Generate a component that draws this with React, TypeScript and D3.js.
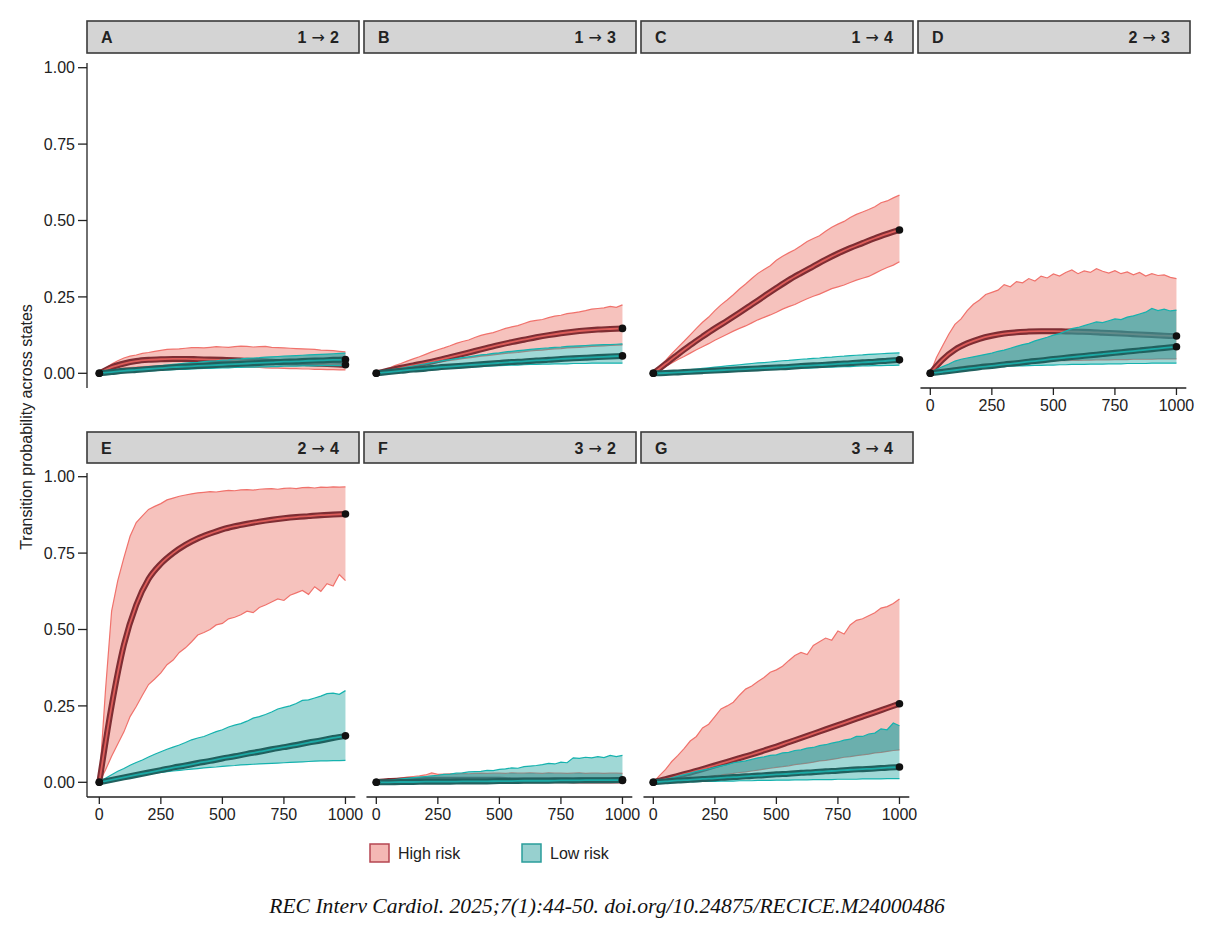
import React from 'react';
import * as d3 from 'd3';

// time grids (ribbons are sampled every 25 units, means every 50)
const T_BAND = [
  0, 25, 50, 75, 100, 125, 150, 175, 200, 225,
  250, 275, 300, 325, 350, 375, 400, 425, 450, 475,
  500, 525, 550, 575, 600, 625, 650, 675, 700, 725,
  750, 775, 800, 825, 850, 875, 900, 925, 950, 975,
  1000,
];
const T_MEAN = [0, 50, 100, 150, 200, 250, 300, 350, 400, 450, 500, 550, 600, 650, 700, 750, 800, 850, 900, 950, 1000];

const X_TICKS = [0, 250, 500, 750, 1000];
const Y_TICKS = [0, 0.25, 0.5, 0.75, 1];
const Y_TICK_LABELS = ['0.00', '0.25', '0.50', '0.75', '1.00'];

const GROUPS = ['High risk', 'Low risk'];

// ---- A: 1 -> 2
const A_HI_UP = [
  0, 0.016, 0.030, 0.041, 0.050, 0.056, 0.060, 0.065, 0.068, 0.072,
  0.075, 0.078, 0.079, 0.080, 0.082, 0.084, 0.084, 0.083, 0.085, 0.087,
  0.086, 0.085, 0.087, 0.089, 0.088, 0.086, 0.087, 0.088, 0.085, 0.084,
  0.083, 0.082, 0.081, 0.080, 0.079, 0.078, 0.076, 0.075, 0.074, 0.072,
  0.070,
];
const A_HI_LO = [
  0, 0.005, 0.010, 0.014, 0.017, 0.019, 0.020, 0.022, 0.023, 0.024,
  0.025, 0.025, 0.026, 0.026, 0.026, 0.025, 0.025, 0.024, 0.024, 0.023,
  0.023, 0.022, 0.022, 0.021, 0.020, 0.020, 0.019, 0.018, 0.017, 0.017,
  0.016, 0.015, 0.015, 0.014, 0.014, 0.013, 0.013, 0.012, 0.012, 0.011,
  0.011,
];
const A_HI_MID = [0, 0.020, 0.032, 0.040, 0.044, 0.046, 0.047, 0.047, 0.046, 0.045, 0.044, 0.043, 0.041, 0.040, 0.038, 0.036, 0.035, 0.033, 0.031, 0.030, 0.028];
const A_LO_UP = [
  0, 0.003, 0.006, 0.009, 0.012, 0.014, 0.017, 0.019, 0.021, 0.023,
  0.025, 0.027, 0.029, 0.031, 0.033, 0.035, 0.036, 0.038, 0.040, 0.041,
  0.043, 0.044, 0.046, 0.047, 0.049, 0.050, 0.051, 0.053, 0.054, 0.055,
  0.056, 0.057, 0.058, 0.059, 0.060, 0.061, 0.062, 0.063, 0.064, 0.065,
  0.066,
];
const A_LO_LO = [
  0, 0.001, 0.002, 0.003, 0.004, 0.005, 0.006, 0.007, 0.008, 0.009,
  0.010, 0.011, 0.012, 0.013, 0.013, 0.014, 0.015, 0.016, 0.016, 0.017,
  0.018, 0.018, 0.019, 0.019, 0.020, 0.020, 0.021, 0.021, 0.022, 0.022,
  0.023, 0.023, 0.023, 0.024, 0.024, 0.024, 0.025, 0.025, 0.025, 0.025,
  0.026,
];
const A_LO_MID = [0, 0.004, 0.008, 0.011, 0.014, 0.017, 0.020, 0.022, 0.024, 0.026, 0.028, 0.030, 0.032, 0.034, 0.036, 0.038, 0.039, 0.041, 0.042, 0.044, 0.045];

// ---- B: 1 -> 3
const B_HI_UP = [
  0, 0.008, 0.016, 0.025, 0.032, 0.040, 0.047, 0.054, 0.062, 0.070,
  0.077, 0.083, 0.090, 0.098, 0.104, 0.109, 0.117, 0.124, 0.129, 0.133,
  0.140, 0.147, 0.152, 0.156, 0.163, 0.170, 0.173, 0.176, 0.182, 0.187,
  0.190, 0.195, 0.198, 0.201, 0.205, 0.210, 0.212, 0.214, 0.219, 0.216,
  0.224,
];
const B_HI_LO = [
  0, 0.004, 0.008, 0.012, 0.016, 0.019, 0.023, 0.027, 0.030, 0.033,
  0.036, 0.039, 0.042, 0.045, 0.048, 0.050, 0.053, 0.056, 0.058, 0.060,
  0.063, 0.065, 0.067, 0.068, 0.071, 0.073, 0.075, 0.076, 0.078, 0.080,
  0.081, 0.083, 0.084, 0.085, 0.086, 0.088, 0.089, 0.090, 0.091, 0.092,
  0.093,
];
const B_HI_MID = [0, 0.009, 0.018, 0.026, 0.034, 0.043, 0.053, 0.063, 0.073, 0.083, 0.093, 0.102, 0.110, 0.118, 0.125, 0.131, 0.136, 0.140, 0.143, 0.145, 0.147];
const B_LO_UP = [
  0, 0.004, 0.008, 0.012, 0.016, 0.020, 0.024, 0.028, 0.031, 0.035,
  0.038, 0.042, 0.045, 0.048, 0.051, 0.054, 0.057, 0.060, 0.062, 0.065,
  0.067, 0.070, 0.072, 0.074, 0.076, 0.078, 0.080, 0.082, 0.083, 0.085,
  0.086, 0.088, 0.089, 0.090, 0.091, 0.092, 0.093, 0.094, 0.094, 0.095,
  0.096,
];
const B_LO_LO = [
  0, 0.002, 0.003, 0.005, 0.006, 0.008, 0.009, 0.011, 0.012, 0.013,
  0.015, 0.016, 0.017, 0.018, 0.019, 0.020, 0.021, 0.022, 0.023, 0.024,
  0.025, 0.026, 0.027, 0.027, 0.028, 0.029, 0.029, 0.030, 0.030, 0.031,
  0.031, 0.031, 0.032, 0.032, 0.032, 0.033, 0.033, 0.033, 0.033, 0.033,
  0.033,
];
const B_LO_MID = [0, 0.004, 0.008, 0.012, 0.015, 0.019, 0.022, 0.025, 0.028, 0.031, 0.034, 0.037, 0.039, 0.042, 0.044, 0.047, 0.049, 0.051, 0.053, 0.055, 0.057];

// ---- C: 1 -> 4
const C_HI_UP = [
  0, 0.021, 0.042, 0.064, 0.085, 0.105, 0.126, 0.147, 0.167, 0.184,
  0.205, 0.224, 0.240, 0.257, 0.276, 0.292, 0.310, 0.327, 0.340, 0.352,
  0.370, 0.383, 0.394, 0.404, 0.417, 0.431, 0.441, 0.450, 0.465, 0.478,
  0.488, 0.497, 0.510, 0.520, 0.528, 0.536, 0.545, 0.558, 0.564, 0.574,
  0.583,
];
const C_HI_LO = [
  0, 0.011, 0.022, 0.034, 0.045, 0.055, 0.066, 0.077, 0.087, 0.097,
  0.108, 0.118, 0.128, 0.138, 0.147, 0.155, 0.165, 0.175, 0.183, 0.191,
  0.200, 0.210, 0.218, 0.225, 0.235, 0.244, 0.252, 0.259, 0.268, 0.277,
  0.283, 0.289, 0.297, 0.305, 0.311, 0.317, 0.327, 0.337, 0.346, 0.354,
  0.365,
];
const C_HI_MID = [0, 0.031, 0.062, 0.092, 0.120, 0.147, 0.172, 0.198, 0.225, 0.252, 0.279, 0.305, 0.328, 0.350, 0.372, 0.392, 0.410, 0.426, 0.442, 0.456, 0.469];
const C_LO_UP = [
  0, 0.002, 0.004, 0.006, 0.008, 0.010, 0.012, 0.014, 0.016, 0.018,
  0.020, 0.022, 0.024, 0.026, 0.028, 0.030, 0.032, 0.034, 0.035, 0.037,
  0.039, 0.041, 0.042, 0.044, 0.046, 0.047, 0.049, 0.050, 0.052, 0.053,
  0.055, 0.056, 0.058, 0.059, 0.060, 0.062, 0.063, 0.064, 0.065, 0.066,
  0.067,
];
const C_LO_LO = [
  0, 0.000, 0.001, 0.001, 0.002, 0.002, 0.003, 0.004, 0.004, 0.005,
  0.006, 0.006, 0.007, 0.008, 0.009, 0.009, 0.010, 0.011, 0.012, 0.013,
  0.013, 0.014, 0.015, 0.016, 0.017, 0.017, 0.018, 0.019, 0.020, 0.020,
  0.021, 0.022, 0.022, 0.023, 0.024, 0.024, 0.025, 0.025, 0.026, 0.026,
  0.027,
];
const C_LO_MID = [0, 0.001, 0.003, 0.005, 0.007, 0.009, 0.011, 0.013, 0.015, 0.017, 0.019, 0.021, 0.024, 0.026, 0.028, 0.031, 0.033, 0.036, 0.038, 0.041, 0.044];

// ---- D: 2 -> 3
const D_HI_UP = [
  0, 0.052, 0.090, 0.128, 0.160, 0.178, 0.205, 0.226, 0.240, 0.258,
  0.265, 0.272, 0.290, 0.283, 0.300, 0.296, 0.310, 0.302, 0.318, 0.312,
  0.325, 0.318, 0.330, 0.338, 0.326, 0.335, 0.330, 0.342, 0.334, 0.328,
  0.336, 0.326, 0.332, 0.322, 0.330, 0.318, 0.326, 0.320, 0.322, 0.314,
  0.310,
];
const D_HI_LO = [
  0, 0.005, 0.010, 0.014, 0.018, 0.021, 0.024, 0.026, 0.028, 0.030,
  0.031, 0.032, 0.034, 0.035, 0.036, 0.037, 0.038, 0.038, 0.039, 0.040,
  0.040, 0.041, 0.041, 0.042, 0.042, 0.043, 0.043, 0.044, 0.044, 0.044,
  0.045, 0.045, 0.045, 0.046, 0.046, 0.046, 0.046, 0.047, 0.047, 0.047,
  0.047,
];
const D_HI_MID = [0, 0.045, 0.077, 0.098, 0.113, 0.123, 0.130, 0.134, 0.137, 0.138, 0.138, 0.137, 0.136, 0.135, 0.133, 0.131, 0.129, 0.127, 0.125, 0.123, 0.122];
const D_LO_UP = [
  0, 0.012, 0.022, 0.030, 0.040, 0.046, 0.050, 0.054, 0.058, 0.062,
  0.066, 0.072, 0.076, 0.082, 0.088, 0.094, 0.098, 0.106, 0.112, 0.118,
  0.125, 0.130, 0.138, 0.146, 0.150, 0.156, 0.162, 0.168, 0.166, 0.172,
  0.178, 0.176, 0.184, 0.188, 0.194, 0.200, 0.212, 0.205, 0.210, 0.204,
  0.207,
];
const D_LO_LO = [
  0, 0.004, 0.007, 0.010, 0.012, 0.014, 0.016, 0.017, 0.018, 0.019,
  0.020, 0.021, 0.022, 0.023, 0.024, 0.024, 0.025, 0.026, 0.026, 0.027,
  0.027, 0.028, 0.028, 0.029, 0.029, 0.029, 0.030, 0.030, 0.030, 0.031,
  0.031, 0.031, 0.032, 0.032, 0.032, 0.032, 0.033, 0.033, 0.033, 0.033,
  0.033,
];
const D_LO_MID = [0, 0.005, 0.010, 0.015, 0.020, 0.024, 0.029, 0.033, 0.038, 0.042, 0.047, 0.051, 0.055, 0.059, 0.063, 0.067, 0.071, 0.075, 0.079, 0.083, 0.087];

// ---- E: 2 -> 4
const E_HI_UP = [
  0, 0.300, 0.560, 0.660, 0.735, 0.805, 0.850, 0.872, 0.893, 0.903,
  0.912, 0.924, 0.930, 0.936, 0.940, 0.944, 0.947, 0.949, 0.951, 0.950,
  0.953, 0.955, 0.954, 0.957, 0.958, 0.956, 0.959, 0.960, 0.961, 0.959,
  0.962, 0.963, 0.961, 0.964, 0.965, 0.963, 0.966, 0.965, 0.967, 0.966,
  0.967,
];
const E_HI_LO = [
  0, 0.040, 0.085, 0.125, 0.165, 0.215, 0.248, 0.285, 0.320, 0.338,
  0.358, 0.385, 0.400, 0.425, 0.440, 0.460, 0.482, 0.490, 0.500, 0.515,
  0.520, 0.535, 0.540, 0.548, 0.560, 0.555, 0.572, 0.580, 0.590, 0.600,
  0.595, 0.612, 0.620, 0.628, 0.615, 0.640, 0.625, 0.650, 0.642, 0.680,
  0.660,
];
const E_HI_MID = [0, 0.250, 0.450, 0.580, 0.665, 0.715, 0.750, 0.777, 0.798, 0.814, 0.828, 0.838, 0.846, 0.853, 0.859, 0.864, 0.868, 0.871, 0.874, 0.876, 0.878];
const E_LO_UP = [
  0, 0.013, 0.025, 0.036, 0.045, 0.056, 0.065, 0.073, 0.083, 0.092,
  0.100, 0.108, 0.115, 0.122, 0.130, 0.139, 0.145, 0.150, 0.158, 0.166,
  0.172, 0.181, 0.187, 0.192, 0.200, 0.210, 0.215, 0.222, 0.230, 0.240,
  0.245, 0.250, 0.258, 0.268, 0.270, 0.276, 0.282, 0.290, 0.292, 0.288,
  0.300,
];
const E_LO_LO = [
  0, 0.004, 0.008, 0.012, 0.015, 0.018, 0.021, 0.024, 0.027, 0.030,
  0.032, 0.035, 0.037, 0.039, 0.041, 0.043, 0.045, 0.047, 0.049, 0.050,
  0.052, 0.054, 0.055, 0.057, 0.058, 0.059, 0.060, 0.061, 0.062, 0.063,
  0.064, 0.065, 0.066, 0.067, 0.068, 0.069, 0.070, 0.070, 0.071, 0.071,
  0.072,
];
const E_LO_MID = [0, 0.008, 0.016, 0.024, 0.032, 0.040, 0.048, 0.055, 0.063, 0.070, 0.078, 0.085, 0.093, 0.100, 0.108, 0.115, 0.122, 0.130, 0.137, 0.145, 0.152];

// ---- F: 3 -> 2
const F_HI_UP = [
  0, 0.004, 0.008, 0.011, 0.014, 0.017, 0.019, 0.021, 0.024, 0.031,
  0.026, 0.027, 0.028, 0.027, 0.029, 0.028, 0.029, 0.030, 0.029, 0.030,
  0.030, 0.029, 0.031, 0.030, 0.030, 0.031, 0.030, 0.029, 0.031, 0.030,
  0.030, 0.029, 0.030, 0.031, 0.029, 0.030, 0.030, 0.029, 0.030, 0.030,
  0.029,
];
const F_HI_LO = [
  0, 0.000, 0.000, 0.000, 0.001, 0.001, 0.001, 0.001, 0.001, 0.001,
  0.001, 0.001, 0.001, 0.001, 0.001, 0.001, 0.001, 0.001, 0.001, 0.001,
  0.001, 0.001, 0.001, 0.001, 0.001, 0.001, 0.001, 0.001, 0.001, 0.001,
  0.001, 0.001, 0.001, 0.001, 0.001, 0.001, 0.001, 0.001, 0.001, 0.001,
  0.001,
];
const F_HI_MID = [0, 0.004, 0.006, 0.007, 0.008, 0.008, 0.008, 0.008, 0.008, 0.008, 0.008, 0.007, 0.007, 0.007, 0.007, 0.007, 0.006, 0.006, 0.006, 0.006, 0.006];
const F_LO_UP = [
  0, 0.003, 0.006, 0.009, 0.011, 0.013, 0.015, 0.017, 0.019, 0.021,
  0.023, 0.026, 0.027, 0.030, 0.031, 0.034, 0.035, 0.036, 0.039, 0.038,
  0.042, 0.044, 0.047, 0.046, 0.051, 0.053, 0.055, 0.058, 0.062, 0.060,
  0.066, 0.064, 0.080, 0.078, 0.082, 0.080, 0.084, 0.081, 0.088, 0.084,
  0.088,
];
const F_LO_LO = [
  0, 0.000, 0.000, 0.000, 0.000, 0.000, 0.000, 0.000, 0.001, 0.001,
  0.001, 0.001, 0.001, 0.001, 0.001, 0.001, 0.001, 0.001, 0.001, 0.001,
  0.001, 0.001, 0.001, 0.001, 0.001, 0.001, 0.001, 0.001, 0.001, 0.001,
  0.001, 0.001, 0.001, 0.001, 0.001, 0.001, 0.001, 0.001, 0.001, 0.001,
  0.001,
];
const F_LO_MID = [0, 0.000, 0.001, 0.001, 0.002, 0.002, 0.002, 0.003, 0.003, 0.003, 0.004, 0.004, 0.005, 0.005, 0.005, 0.006, 0.006, 0.007, 0.007, 0.007, 0.008];

// ---- G: 3 -> 4
const G_HI_UP = [
  0, 0.022, 0.042, 0.068, 0.088, 0.110, 0.135, 0.150, 0.178, 0.190,
  0.215, 0.240, 0.250, 0.262, 0.285, 0.305, 0.315, 0.330, 0.343, 0.360,
  0.368, 0.380, 0.398, 0.415, 0.425, 0.418, 0.448, 0.460, 0.472, 0.465,
  0.495, 0.485, 0.515, 0.530, 0.535, 0.545, 0.555, 0.570, 0.575, 0.585,
  0.600,
];
const G_HI_LO = [
  0, 0.002, 0.004, 0.006, 0.008, 0.010, 0.012, 0.014, 0.017, 0.019,
  0.022, 0.024, 0.027, 0.029, 0.032, 0.034, 0.037, 0.040, 0.043, 0.046,
  0.049, 0.051, 0.054, 0.058, 0.060, 0.063, 0.066, 0.070, 0.072, 0.075,
  0.078, 0.082, 0.084, 0.087, 0.090, 0.092, 0.096, 0.098, 0.101, 0.104,
  0.106,
];
const G_HI_MID = [0, 0.010, 0.021, 0.032, 0.043, 0.055, 0.067, 0.079, 0.091, 0.104, 0.117, 0.131, 0.145, 0.159, 0.173, 0.187, 0.201, 0.215, 0.229, 0.243, 0.257];
const G_LO_UP = [
  0, 0.005, 0.010, 0.015, 0.020, 0.025, 0.030, 0.036, 0.040, 0.044,
  0.049, 0.054, 0.058, 0.064, 0.067, 0.070, 0.075, 0.080, 0.083, 0.088,
  0.090, 0.096, 0.098, 0.104, 0.106, 0.112, 0.114, 0.120, 0.123, 0.128,
  0.132, 0.138, 0.141, 0.150, 0.150, 0.158, 0.161, 0.175, 0.172, 0.194,
  0.185,
];
const G_LO_LO = [
  0, 0.000, 0.001, 0.001, 0.001, 0.002, 0.002, 0.002, 0.003, 0.003,
  0.003, 0.004, 0.004, 0.004, 0.005, 0.005, 0.005, 0.006, 0.006, 0.006,
  0.007, 0.007, 0.007, 0.008, 0.008, 0.008, 0.009, 0.009, 0.009, 0.009,
  0.010, 0.010, 0.010, 0.010, 0.011, 0.011, 0.011, 0.011, 0.012, 0.012,
  0.012,
];
const G_LO_MID = [0, 0.003, 0.006, 0.008, 0.011, 0.013, 0.016, 0.018, 0.021, 0.023, 0.026, 0.028, 0.031, 0.033, 0.036, 0.038, 0.041, 0.043, 0.045, 0.048, 0.050];

const PANELS = [
  { key: 'A', from: '1', to: '2', row: 0, col: 0, hi: [A_HI_LO, A_HI_UP, A_HI_MID], lo: [A_LO_LO, A_LO_UP, A_LO_MID] },
  { key: 'B', from: '1', to: '3', row: 0, col: 1, hi: [B_HI_LO, B_HI_UP, B_HI_MID], lo: [B_LO_LO, B_LO_UP, B_LO_MID] },
  { key: 'C', from: '1', to: '4', row: 0, col: 2, hi: [C_HI_LO, C_HI_UP, C_HI_MID], lo: [C_LO_LO, C_LO_UP, C_LO_MID] },
  { key: 'D', from: '2', to: '3', row: 0, col: 3, hi: [D_HI_LO, D_HI_UP, D_HI_MID], lo: [D_LO_LO, D_LO_UP, D_LO_MID] },
  { key: 'E', from: '2', to: '4', row: 1, col: 0, hi: [E_HI_LO, E_HI_UP, E_HI_MID], lo: [E_LO_LO, E_LO_UP, E_LO_MID] },
  { key: 'F', from: '3', to: '2', row: 1, col: 1, hi: [F_HI_LO, F_HI_UP, F_HI_MID], lo: [F_LO_LO, F_LO_UP, F_LO_MID] },
  { key: 'G', from: '3', to: '4', row: 1, col: 2, hi: [G_HI_LO, G_HI_UP, G_HI_MID], lo: [G_LO_LO, G_LO_UP, G_LO_MID] },
];

const FONT = '"Liberation Sans", Arial, Helvetica, sans-serif';
const INK = '#222';

// layout (pixels)
const PANEL_W = 272;
const PANEL_STEP = 277;
const PANEL_LEFT = 87;
const ROWS = [
  { strip: 21, stripH: 32, axisTop: 63, axisBottom: 388, y0: 373.3 },
  { strip: 432, stripH: 31, axisTop: 473, axisBottom: 797, y0: 782.3 },
];
const Y_SPAN = 305.6;

const HI = { fill: '#f6c2bd', edge: '#f0726c', outer: '#7e2d33', inner: '#dd5d5a' };
const LO = { edge: '#15b2ae', outer: '#21605e', inner: '#1ca9a5' };

type Band = { t: number; lo: number; up: number };

const Panel: React.FC<{ p: typeof PANELS[number] }> = ({ p }) => {
  const row = ROWS[p.row];
  const left = PANEL_LEFT + p.col * PANEL_STEP;
  const x = d3.scaleLinear().domain([-50, 1055]).range([left, left + PANEL_W]);
  const y = d3.scaleLinear().domain([0, 1]).range([row.y0, row.y0 - Y_SPAN]);

  const band = (s: number[][]): Band[] =>
    T_BAND.map((t, i) => ({ t, lo: s[0][i], up: s[1][i] })).filter(d => d.lo != null && d.up != null);
  const mid = (s: number[][]) => T_MEAN.map((t, i) => [t, s[2][i]] as [number, number]).filter(d => d[1] != null);

  const area = d3.area<Band>().x(d => x(d.t)).y0(d => y(d.lo)).y1(d => y(d.up));
  const edgeLo = d3.line<Band>().x(d => x(d.t)).y(d => y(d.lo));
  const edgeUp = d3.line<Band>().x(d => x(d.t)).y(d => y(d.up));
  const meanLine = d3.line<[number, number]>().x(d => x(d[0])).y(d => y(d[1])).curve(d3.curveMonotoneX);

  const hb = band(p.hi);
  const lb = band(p.lo);
  const hm = mid(p.hi);
  const lm = mid(p.lo);
  const hiArea = area(hb) || '';
  const loArea = area(lb) || '';

  const showY = p.col === 0;
  const showX = p.row === 1 || p.col === 3;
  const ends = [hm[0], hm[hm.length - 1], lm[0], lm[lm.length - 1]];
  const labelY = row.strip + row.stripH / 2 + 6;

  return (
    <g>
      <defs>
        <clipPath id={`hiclip-${p.key}`}>
          <path d={hiArea} />
        </clipPath>
        <mask id={`himask-${p.key}`} maskUnits="userSpaceOnUse" x={0} y={0} width={1214} height={928}>
          <rect x={0} y={0} width={1214} height={928} fill="white" />
          <path d={hiArea} fill="black" />
        </mask>
      </defs>

      {/* strip */}
      <rect x={left} y={row.strip} width={PANEL_W} height={row.stripH} fill="#d4d4d4" stroke="#3a3a3a" strokeWidth={1.6} />
      <text x={left + 14} y={labelY} fontFamily={FONT} fontWeight="bold" fontSize={16} fill={INK}>{p.key}</text>
      <text x={left + PANEL_W - 20} y={labelY} textAnchor="end" fontFamily={FONT} fontWeight="bold" fontSize={16} fill={INK}>
        {p.from}
        <tspan fontFamily='"DejaVu Sans", sans-serif' fontWeight="normal" fontSize={16}>{' → '}</tspan>
        {p.to}
      </text>

      {/* high risk */}
      <path d={hiArea} fill={HI.fill} />
      <path d={edgeUp(hb) || ''} fill="none" stroke={HI.edge} strokeWidth={1.2} />
      <path d={edgeLo(hb) || ''} fill="none" stroke={HI.edge} strokeWidth={1.2} />
      <path d={meanLine(hm) || ''} fill="none" stroke={HI.outer} strokeWidth={6} strokeLinecap="round" />
      <path d={meanLine(hm) || ''} fill="none" stroke={HI.inner} strokeWidth={1.8} />

      {/* low risk: lighter where alone, darker over the high risk band */}
      <path d={loArea} fill="#2ca8a4" fillOpacity={0.45} mask={`url(#himask-${p.key})`} />
      <path d={loArea} fill="#20a5a5" fillOpacity={0.65} clipPath={`url(#hiclip-${p.key})`} />
      <path d={edgeUp(lb) || ''} fill="none" stroke={LO.edge} strokeWidth={1.2} />
      <path d={edgeLo(lb) || ''} fill="none" stroke={LO.edge} strokeWidth={1.2} />
      <path d={meanLine(lm) || ''} fill="none" stroke={LO.outer} strokeWidth={6} strokeLinecap="round" />
      <path d={meanLine(lm) || ''} fill="none" stroke={LO.inner} strokeWidth={1.8} />

      {ends.map((d, i) => (
        <circle key={i} cx={x(d[0])} cy={y(d[1])} r={3.8} fill="#111" />
      ))}

      {showY && (
        <g>
          <line x1={left} x2={left} y1={row.axisTop} y2={row.axisBottom} stroke={INK} strokeWidth={1.3} />
          {Y_TICKS.map((v, i) => (
            <g key={v}>
              <line x1={left - 9} x2={left} y1={y(v)} y2={y(v)} stroke={INK} strokeWidth={1.3} />
              <text x={left - 12} y={y(v)} dy="0.35em" textAnchor="end" fontFamily={FONT} fontSize={16} fill={INK}>{Y_TICK_LABELS[i]}</text>
            </g>
          ))}
        </g>
      )}

      {showX && (
        <g>
          <line x1={showY ? left : x(-40)} x2={x(1040)} y1={row.axisBottom} y2={row.axisBottom} stroke={INK} strokeWidth={1.3} />
          {X_TICKS.map(v => (
            <g key={v}>
              <line x1={x(v)} x2={x(v)} y1={row.axisBottom} y2={row.axisBottom + 7} stroke={INK} strokeWidth={1.3} />
              <text x={x(v)} y={row.axisBottom + 23} textAnchor="middle" fontFamily={FONT} fontSize={16} fill={INK}>{v}</text>
            </g>
          ))}
        </g>
      )}
    </g>
  );
};

const App: React.FC = () => {
  const legendX = [370, 522];
  const legendFill = ['#f4b8b4', '#97d0cf'];
  const legendStroke = ['#b54651', '#2a9d9b'];
  return (
    <svg width={1214} height={928} style={{ position: 'absolute', left: 0, top: 0, background: '#fff' }}>
      <rect width={1214} height={928} fill="#fff" />
      {PANELS.map(p => <Panel key={p.key} p={p} />)}

      <text transform="translate(26,427) rotate(-90)" textAnchor="middle" dy="0.35em" fontFamily={FONT} fontSize={16} fill={INK}>
        Transition probability across states
      </text>

      {GROUPS.map((g, i) => (
        <g key={g}>
          <rect x={legendX[i]} y={844} width={19} height={18} fill={legendFill[i]} stroke={legendStroke[i]} strokeWidth={1.5} />
          <text x={legendX[i] + 28} y={853} dy="0.35em" fontFamily={FONT} fontSize={16} fill={INK}>{g}</text>
        </g>
      ))}

      <text x={607} y={913} textAnchor="middle" fontFamily='"Liberation Serif", "Times New Roman", serif' fontStyle="italic" fontSize={21.6} fill="#111">
        REC Interv Cardiol. 2025;7(1):44-50. doi.org/10.24875/RECICE.M24000486
      </text>
    </svg>
  );
};

export default App;
